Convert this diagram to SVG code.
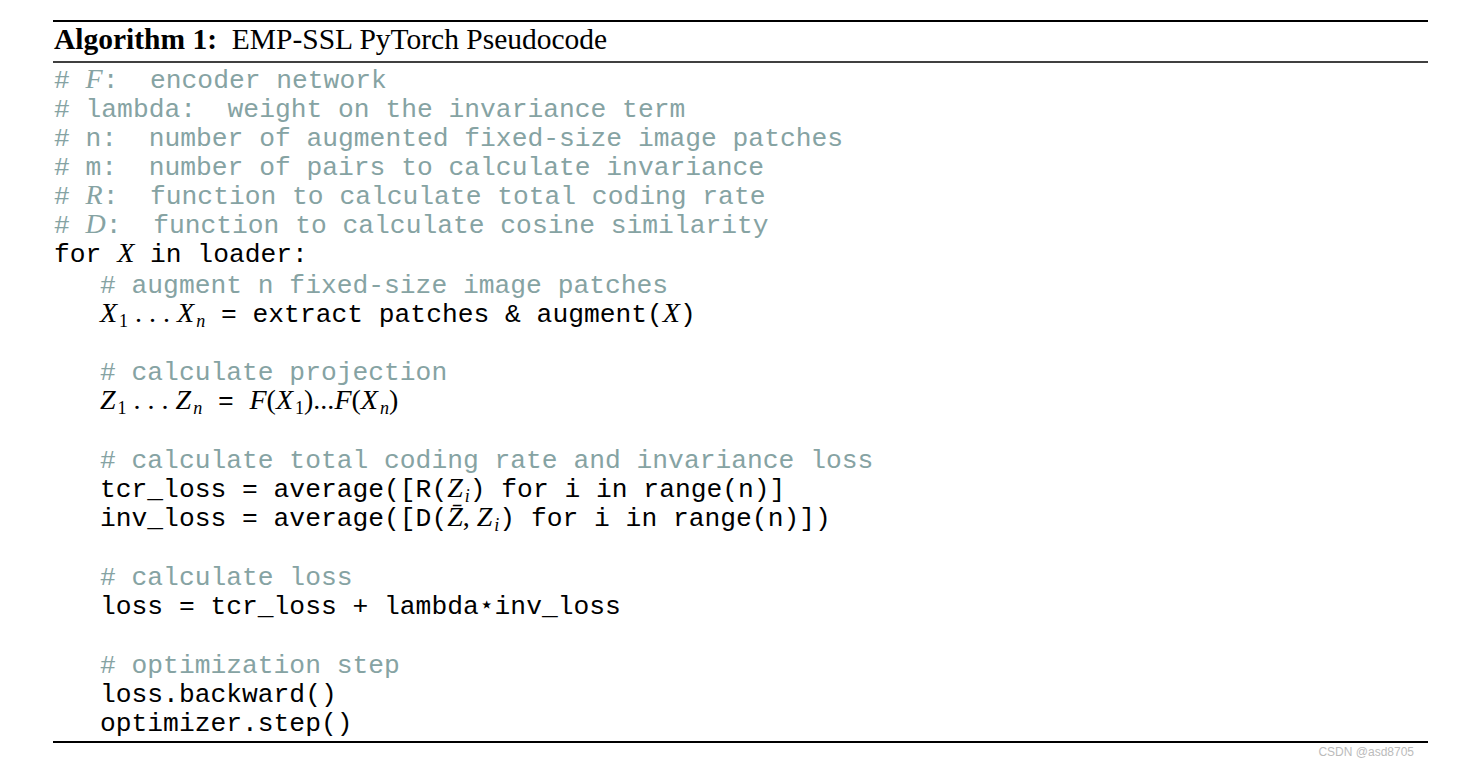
<svg xmlns="http://www.w3.org/2000/svg" width="1458" height="766" viewBox="0 0 1458 766">
<style>
text{white-space:pre}
.c{font-family:"Liberation Mono",monospace;font-size:26.3px;fill:#000}
.k{fill:#86a3a3}
.m{font-family:"Liberation Serif",serif;font-style:italic;font-size:28px}
.s{font-family:"Liberation Serif",serif;font-size:18px}
.si{font-family:"Liberation Serif",serif;font-style:italic;font-size:18px}
.r{font-family:"Liberation Serif",serif;font-size:28px}
</style>
<rect width="1458" height="766" fill="#fff"/>
<line x1="53" y1="21" x2="1428" y2="21" stroke="#000" stroke-width="2"/>
<line x1="53" y1="62" x2="1428" y2="62" stroke="#000" stroke-width="1.5"/>
<line x1="53" y1="742" x2="1428" y2="742" stroke="#000" stroke-width="2"/>
<text x="54" y="49" font-family="Liberation Serif,serif" font-size="29.5" xml:space="preserve"><tspan font-weight="bold">Algorithm 1:</tspan>  EMP-SSL PyTorch Pseudocode</text>
<g id="code">
<text xml:space="preserve" x="54" y="88" class="c k"># <tspan class="m k">F</tspan>:  encoder network</text>
<text xml:space="preserve" x="54" y="117" class="c k"># lambda:  weight on the invariance term</text>
<text xml:space="preserve" x="54" y="146" class="c k"># n:  number of augmented fixed-size image patches</text>
<text xml:space="preserve" x="54" y="175" class="c k"># m:  number of pairs to calculate invariance</text>
<text xml:space="preserve" x="54" y="204" class="c k"># <tspan class="m k">R</tspan>:  function to calculate total coding rate</text>
<text xml:space="preserve" x="54" y="233" class="c k"># <tspan class="m k">D</tspan>:  function to calculate cosine similarity</text>
<text xml:space="preserve" x="54" y="262" class="c">for <tspan class="m">X</tspan> in loader:</text>
<text xml:space="preserve" x="100" y="293" class="c k"># augment n fixed-size image patches</text>
<text xml:space="preserve" x="100" y="322" class="c"><tspan class="m">X</tspan><tspan class="s" dx="2" dy="5">1</tspan><tspan class="r" dy="-5"> . . . </tspan><tspan class="m">X</tspan><tspan class="si" dx="2" dy="5">n</tspan><tspan dy="-5"> = extract patches &amp; augment(</tspan><tspan class="m">X</tspan>)</text>
<text xml:space="preserve" x="100" y="380" class="c k"># calculate projection</text>
<text xml:space="preserve" x="100" y="409" class="c"><tspan class="m">Z</tspan><tspan class="s" dx="2" dy="5">1</tspan><tspan class="r" dy="-5"> . . . </tspan><tspan class="m">Z</tspan><tspan class="si" dx="2" dy="5">n</tspan><tspan dy="-5"> = </tspan><tspan class="m">F</tspan><tspan class="r">(</tspan><tspan class="m">X</tspan><tspan class="s" dx="2" dy="5">1</tspan><tspan class="r" dy="-5">)...</tspan><tspan class="m">F</tspan><tspan class="r">(</tspan><tspan class="m">X</tspan><tspan class="si" dx="2" dy="5">n</tspan><tspan class="r" dy="-5">)</tspan></text>
<text xml:space="preserve" x="100" y="468" class="c k"># calculate total coding rate and invariance loss</text>
<text xml:space="preserve" x="100" y="497" class="c">tcr_loss = average([R(<tspan class="m">Z</tspan><tspan class="si" dx="2" dy="5">i</tspan><tspan dy="-5">) for i in range(n)]</tspan></text>
<text xml:space="preserve" x="100" y="526" class="c">inv_loss = average([D(<tspan class="m">Z̄</tspan><tspan class="r">, </tspan><tspan class="m">Z</tspan><tspan class="si" dx="2" dy="5">i</tspan><tspan dy="-5">) for i in range(n)])</tspan></text>
<text xml:space="preserve" x="100" y="585" class="c k"># calculate loss</text>
<text xml:space="preserve" x="100" y="614" class="c">loss = tcr_loss + lambda⋆inv_loss</text>
<text xml:space="preserve" x="100" y="673" class="c k"># optimization step</text>
<text xml:space="preserve" x="100" y="702" class="c">loss.backward()</text>
<text xml:space="preserve" x="100" y="731" class="c">optimizer.step()</text>
</g>
<text x="1414" y="756" font-family="Liberation Sans,sans-serif" font-size="12" fill="#bbb" text-anchor="end">CSDN @asd8705</text>
</svg>
